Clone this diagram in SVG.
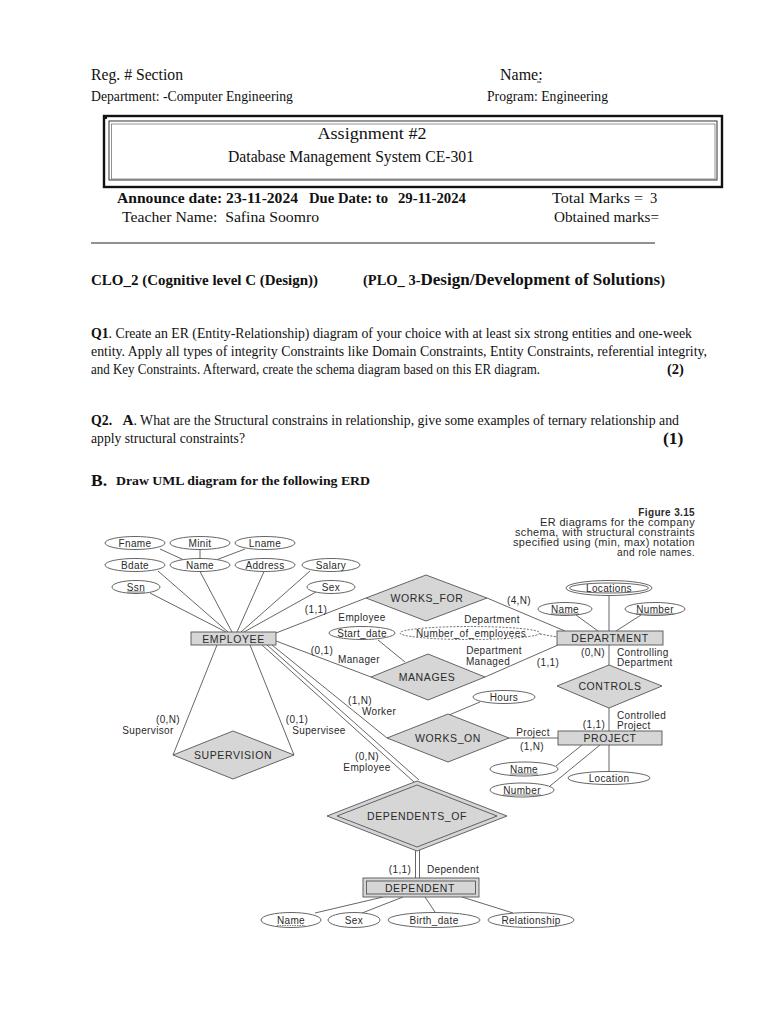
<svg xmlns="http://www.w3.org/2000/svg" width="768" height="1024" viewBox="0 0 768 1024">
<style>
.doc{font-family:"Liberation Serif","Times New Roman",serif;fill:#111;white-space:pre}
.b{font-weight:bold}
.er{font-family:"Liberation Sans",Arial,sans-serif;font-size:10px;letter-spacing:0.35px;fill:#2a2a2a;dominant-baseline:central}
.t{font-size:10.5px;letter-spacing:0.6px}
.c{text-anchor:middle}
.s{text-anchor:start}
.e{text-anchor:end}
.ell{fill:#fff;stroke:#555;stroke-width:0.9}
.dia{fill:#d6d6d6;stroke:#555;stroke-width:0.9}
.ent{fill:#d6d6d6;stroke:#555;stroke-width:0.9}
.ln{stroke:#555;stroke-width:0.9;fill:none}
.ul{stroke:#444;stroke-width:0.7}
</style>
<rect width="768" height="1024" fill="#fff"/>

<!-- Header -->
<g id="header">
<text class="doc" x="91" y="80" font-size="16" textLength="92" lengthAdjust="spacingAndGlyphs">Reg. # Section</text>
<text class="doc" x="500" y="80" font-size="16">Name:</text>
<line x1="537" y1="82" x2="541" y2="82" stroke="#111" stroke-width="0.8"/>
<text class="doc" x="91" y="101" font-size="14" textLength="202" lengthAdjust="spacingAndGlyphs">Department: -Computer Engineering</text>
<text class="doc" x="487" y="101" font-size="14" textLength="121" lengthAdjust="spacingAndGlyphs">Program: Engineering</text>
</g>

<g id="title-box">
<rect x="104" y="116" width="618" height="71" fill="none" stroke="#111" stroke-width="2.4"/>
<rect x="109" y="121" width="608" height="59" fill="none" stroke="#333" stroke-width="1"/>
<rect x="111.5" y="124" width="603.5" height="55" fill="none" stroke="#666" stroke-width="0.7"/>
<rect x="103" y="115" width="4" height="4" fill="#111"/>
<text class="doc" x="372" y="139" font-size="16" text-anchor="middle" textLength="109" lengthAdjust="spacingAndGlyphs">Assignment #2</text>
<text class="doc" x="351" y="162" font-size="16" text-anchor="middle" textLength="246" lengthAdjust="spacingAndGlyphs">Database Management System CE-301</text>
</g>

<g id="info">
<text class="doc b" x="117" y="203" font-size="14" textLength="181" lengthAdjust="spacingAndGlyphs">Announce date: 23-11-2024</text>
<text class="doc b" x="309" y="203" font-size="14" textLength="79" lengthAdjust="spacingAndGlyphs">Due Date: to</text>
<text class="doc b" x="398" y="203" font-size="14" textLength="68" lengthAdjust="spacingAndGlyphs">29-11-2024</text>
<text class="doc" x="552" y="203" font-size="14.5" textLength="91" lengthAdjust="spacingAndGlyphs">Total Marks =</text>
<text class="doc" x="650" y="203" font-size="14.5">3</text>
<text class="doc" x="122" y="222" font-size="15.5" textLength="197" lengthAdjust="spacingAndGlyphs">Teacher Name:  Safina Soomro</text>
<text class="doc" x="554" y="222" font-size="14.5" textLength="105" lengthAdjust="spacingAndGlyphs">Obtained marks=</text>
<line x1="91" y1="243" x2="655" y2="243" stroke="#222" stroke-width="1"/>
</g>

<g id="questions">
<text class="doc b" x="91" y="285" font-size="14" textLength="227" lengthAdjust="spacingAndGlyphs">CLO_2 (Cognitive level C (Design))</text>
<text class="doc b" x="363" y="285" font-size="14" textLength="302" lengthAdjust="spacingAndGlyphs">(PLO_ 3-<tspan font-size="16.5">Design/Development of Solutions</tspan>)</text>

<text class="doc" x="91" y="338" font-size="14" textLength="601" lengthAdjust="spacingAndGlyphs"><tspan font-weight="bold">Q1</tspan>. Create an ER (Entity-Relationship) diagram of your choice with at least six strong entities and one-week</text>
<text class="doc" x="91" y="356" font-size="14" textLength="616" lengthAdjust="spacingAndGlyphs">entity. Apply all types of integrity Constraints like Domain Constraints, Entity Constraints, referential integrity,</text>
<text class="doc" x="91" y="374" font-size="14" textLength="449" lengthAdjust="spacingAndGlyphs">and Key Constraints. Afterward, create the schema diagram based on this ER diagram.</text>
<text class="doc b" x="667" y="374" font-size="14.5">(2)</text>

<text class="doc" x="91" y="425" font-size="14" textLength="588" lengthAdjust="spacingAndGlyphs"><tspan font-weight="bold">Q2.</tspan>   <tspan font-weight="bold" font-size="15.5">A</tspan>. What are the Structural constrains in relationship, give some examples of ternary relationship and</text>
<text class="doc" x="91" y="443" font-size="14" textLength="154" lengthAdjust="spacingAndGlyphs">apply structural constraints?</text>
<text class="doc b" x="663" y="444" font-size="17.5">(1)</text>

<text class="doc b" x="91" y="486" font-size="17.5">B.</text>
<text class="doc b" x="116" y="485" font-size="13" textLength="254" lengthAdjust="spacingAndGlyphs">Draw UML diagram for the following ERD</text>
</g>

<!-- ER figure caption -->
<g id="caption">
<text class="er e" x="695" y="512" font-weight="bold" font-size="10" fill="#222">Figure 3.15</text>
<text class="er e" x="695" y="522.5" font-size="10" fill="#555" textLength="155" lengthAdjust="spacingAndGlyphs">ER diagrams for the company</text>
<text class="er e" x="695" y="532.5" font-size="10" fill="#555" textLength="180" lengthAdjust="spacingAndGlyphs">schema, with structural constraints</text>
<text class="er e" x="695" y="542.5" font-size="10" fill="#555" textLength="182" lengthAdjust="spacingAndGlyphs">specified using (min, max) notation</text>
<text class="er e" x="695" y="552.5" font-size="10" fill="#555" textLength="78" lengthAdjust="spacingAndGlyphs">and role names.</text>
</g>

<!-- Connectors -->
<g id="connectors" class="ln">
<line x1="160" y1="549" x2="184" y2="560"/>
<line x1="200" y1="549.5" x2="200" y2="558.5"/>
<line x1="245" y1="549" x2="216" y2="560"/>
<line x1="158" y1="571" x2="228" y2="632"/>
<line x1="200" y1="571.5" x2="232" y2="632"/>
<line x1="264" y1="571.5" x2="237" y2="632"/>
<line x1="310" y1="571" x2="241" y2="632"/>
<line x1="150" y1="593" x2="226" y2="632"/>
<line x1="316" y1="592" x2="244" y2="632"/>
<line x1="276" y1="633" x2="366" y2="598"/>
<line x1="487" y1="598" x2="565" y2="631"/>
<line x1="276" y1="641" x2="371" y2="677"/>
<line x1="485" y1="677" x2="558" y2="645"/>
<line x1="378" y1="640" x2="405" y2="662"/>
<line x1="540" y1="634" x2="557" y2="637" stroke-dasharray="2,1.5"/>
<line x1="609" y1="595.5" x2="609" y2="631"/>
<line x1="576" y1="615" x2="598" y2="631"/>
<line x1="641" y1="615" x2="616" y2="631"/>
<line x1="609" y1="645" x2="609" y2="665"/>
<line x1="609" y1="708" x2="609" y2="731"/>
<line x1="480" y1="702" x2="449" y2="715"/>
<line x1="509" y1="738" x2="558" y2="738"/>
<line x1="272" y1="645" x2="387" y2="738"/>
<line x1="262" y1="645" x2="414" y2="782"/>
<line x1="267" y1="645" x2="419" y2="780"/>
<line x1="217" y1="645" x2="173" y2="755"/>
<line x1="250" y1="645" x2="294" y2="755"/>
<line x1="556" y1="766" x2="582" y2="745"/>
<line x1="550" y1="786" x2="600" y2="745"/>
<line x1="609" y1="745" x2="609" y2="772"/>
<line x1="415.5" y1="851" x2="415.5" y2="878"/>
<line x1="419.5" y1="849" x2="419.5" y2="878"/>
<line x1="383" y1="897" x2="315" y2="913"/>
<line x1="403" y1="897" x2="362" y2="913"/>
<line x1="425" y1="897" x2="435" y2="912"/>
<line x1="462" y1="897" x2="513" y2="913"/>
</g>

<!-- Employee attributes -->
<g id="attr-fname"><ellipse class="ell" cx="135" cy="543" rx="30" ry="6.5"/><text class="er c" x="135" y="543">Fname</text></g>
<g id="attr-minit"><ellipse class="ell" cx="200" cy="543" rx="30" ry="6.5"/><text class="er c" x="200" y="543">Minit</text></g>
<g id="attr-lname"><ellipse class="ell" cx="265" cy="543" rx="30" ry="6.5"/><text class="er c" x="265" y="543">Lname</text></g>
<g id="attr-bdate"><ellipse class="ell" cx="135" cy="565" rx="30" ry="6.5"/><text class="er c" x="135" y="565">Bdate</text></g>
<g id="attr-name"><ellipse class="ell" cx="200" cy="565" rx="30" ry="6.5"/><text class="er c" x="200" y="565">Name</text></g>
<g id="attr-address"><ellipse class="ell" cx="265" cy="565" rx="30" ry="6.5"/><text class="er c" x="265" y="565">Address</text></g>
<g id="attr-salary"><ellipse class="ell" cx="331" cy="565" rx="29" ry="6.5"/><text class="er c" x="331" y="565">Salary</text></g>
<g id="attr-ssn"><ellipse class="ell" cx="136" cy="587" rx="24" ry="6.5"/><text class="er c" x="136" y="587">Ssn</text><line class="ul" x1="127" y1="592" x2="145" y2="592"/></g>
<g id="attr-sex"><ellipse class="ell" cx="331" cy="587" rx="24" ry="6.5"/><text class="er c" x="331" y="587">Sex</text></g>

<g id="employee"><rect class="ent" x="191" y="632" width="85" height="13"/><text class="er c t" x="233.5" y="638.5">EMPLOYEE</text></g>

<g id="works-for"><polygon class="dia" points="366,598 426,575 487,598 426,621"/><text class="er c t" x="427" y="598">WORKS_FOR</text></g>

<g id="department"><rect class="ent" x="557" y="631" width="106" height="14"/><text class="er c t" x="610" y="638">DEPARTMENT</text></g>
<g id="attr-locations"><ellipse class="ell" cx="609" cy="588" rx="43" ry="7.5"/><ellipse class="ell" cx="609" cy="588" rx="39.5" ry="5"/><text class="er c" x="609" y="588">Locations</text></g>
<g id="attr-dname"><ellipse class="ell" cx="565" cy="609" rx="27" ry="6.5"/><text class="er c" x="565" y="609">Name</text><line class="ul" x1="551" y1="614" x2="579" y2="614"/></g>
<g id="attr-dnumber"><ellipse class="ell" cx="655" cy="609" rx="30" ry="6.5"/><text class="er c" x="655" y="609">Number</text><line class="ul" x1="636" y1="614" x2="674" y2="614"/></g>

<g id="attr-startdate"><ellipse class="ell" cx="362" cy="633" rx="33" ry="6.5"/><text class="er c" x="362" y="633">Start_date</text></g>
<g id="attr-numemp"><ellipse cx="470" cy="633" rx="70" ry="6.5" fill="#fff" stroke="#555" stroke-width="0.9" stroke-dasharray="2,1.5"/><text class="er c" x="471" y="633">Number_of_employees</text></g>

<g id="manages"><polygon class="dia" points="371,677 428,654 485,677 428,700"/><text class="er c t" x="427" y="677">MANAGES</text></g>

<g id="controls"><polygon class="dia" points="557,686 609,665 662,686 609,708"/><text class="er c t" x="610" y="686">CONTROLS</text></g>

<g id="project"><rect class="ent" x="558" y="731" width="104" height="14"/><text class="er c t" x="610" y="738">PROJECT</text></g>
<g id="attr-hours"><ellipse class="ell" cx="504" cy="697" rx="31" ry="6.5"/><text class="er c" x="504" y="697">Hours</text></g>
<g id="works-on"><polygon class="dia" points="387,738 448,714 509,738 448,762"/><text class="er c t" x="448" y="738">WORKS_ON</text></g>
<g id="attr-pname"><ellipse class="ell" cx="524" cy="769" rx="34" ry="7"/><text class="er c" x="524" y="769">Name</text><line class="ul" x1="510" y1="774" x2="538" y2="774"/></g>
<g id="attr-pnumber"><ellipse class="ell" cx="522" cy="790" rx="32" ry="7"/><text class="er c" x="522" y="790">Number</text><line class="ul" x1="503" y1="795" x2="541" y2="795"/></g>
<g id="attr-location"><ellipse class="ell" cx="609" cy="778" rx="41" ry="6.5"/><text class="er c" x="609" y="778">Location</text></g>

<g id="supervision"><polygon class="dia" points="173,755 233,731 294,755 233,779"/><text class="er c t" x="233" y="755">SUPERVISION</text></g>

<g id="dependents-of"><polygon class="dia" points="327,816 417,781 507,816 417,851"/><polygon fill="none" stroke="#555" stroke-width="0.9" points="337,816 417,785 497,816 417,847"/><text class="er c t" x="417" y="816">DEPENDENTS_OF</text></g>

<g id="dependent"><rect class="ent" x="363" y="878" width="116" height="19"/><rect fill="none" stroke="#555" stroke-width="0.9" x="366.5" y="881" width="109" height="13"/><text class="er c t" x="420" y="887.5">DEPENDENT</text></g>
<g id="attr-depname"><ellipse class="ell" cx="291" cy="920" rx="30" ry="7.5"/><text class="er c" x="291" y="920">Name</text><line class="ul" x1="277" y1="925.5" x2="305" y2="925.5" stroke-dasharray="1.5,1"/></g>
<g id="attr-depsex"><ellipse class="ell" cx="354" cy="920" rx="26" ry="7.5"/><text class="er c" x="354" y="920">Sex</text></g>
<g id="attr-birthdate"><ellipse class="ell" cx="434" cy="920" rx="46" ry="7.5"/><text class="er c" x="434" y="920">Birth_date</text></g>
<g id="attr-relationship"><ellipse class="ell" cx="531" cy="920" rx="43" ry="7.5"/><text class="er c" x="531" y="920">Relationship</text></g>

<!-- Role names / constraints -->
<g id="labels">
<text class="er c" x="316" y="609">(1,1)</text>
<text class="er c" x="362" y="617">Employee</text>
<text class="er c" x="519" y="600">(4,N)</text>
<text class="er c" x="492" y="619">Department</text>
<text class="er c" x="322" y="650">(0,1)</text>
<text class="er c" x="359" y="659">Manager</text>
<text class="er c" x="494" y="650">Department</text>
<text class="er c" x="488" y="661">Managed</text>
<text class="er c" x="548" y="662">(1,1)</text>
<text class="er c" x="593" y="652">(0,N)</text>
<text class="er s" x="617" y="652">Controlling</text>
<text class="er s" x="617" y="662">Department</text>
<text class="er s" x="617" y="715">Controlled</text>
<text class="er s" x="617" y="725">Project</text>
<text class="er c" x="594" y="724">(1,1)</text>
<text class="er c" x="533" y="732">Project</text>
<text class="er c" x="532" y="746">(1,N)</text>
<text class="er c" x="360" y="700">(1,N)</text>
<text class="er c" x="379" y="711">Worker</text>
<text class="er c" x="168" y="719">(0,N)</text>
<text class="er c" x="148" y="730">Supervisor</text>
<text class="er c" x="297" y="719">(0,1)</text>
<text class="er c" x="319" y="730">Supervisee</text>
<text class="er c" x="367" y="756">(0,N)</text>
<text class="er c" x="367" y="767">Employee</text>
<text class="er c" x="400" y="869">(1,1)</text>
<text class="er c" x="453" y="869">Dependent</text>
</g>
</svg>
